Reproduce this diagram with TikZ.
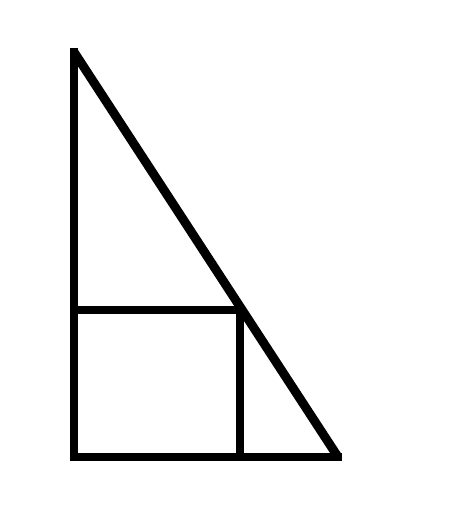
\documentclass[tikz,border=0pt]{standalone}
\begin{document}
\begin{tikzpicture}
[x=1pt,y=-1pt,linedecorate/.style={line width=8pt,line cap=rect}]
\useasboundingbox (0,0) rectangle (448,508);
\coordinate (top) at (74,52);
\coordinate (bl) at (74,457);
\coordinate (br) at (338,457);
\coordinate (sqa) at (74,310);
\coordinate (sqb) at (240,310);
\coordinate (sqc) at (240,457);
%% draw the triangle
\draw[linedecorate] (top) -- (bl) -- (br);
\draw[linedecorate,line width=9pt,line cap=butt] (top) -- (br);
%% draw the square
\draw[linedecorate] (sqa) -- (sqb) -- (sqc);
\end{tikzpicture}
\end{document}
